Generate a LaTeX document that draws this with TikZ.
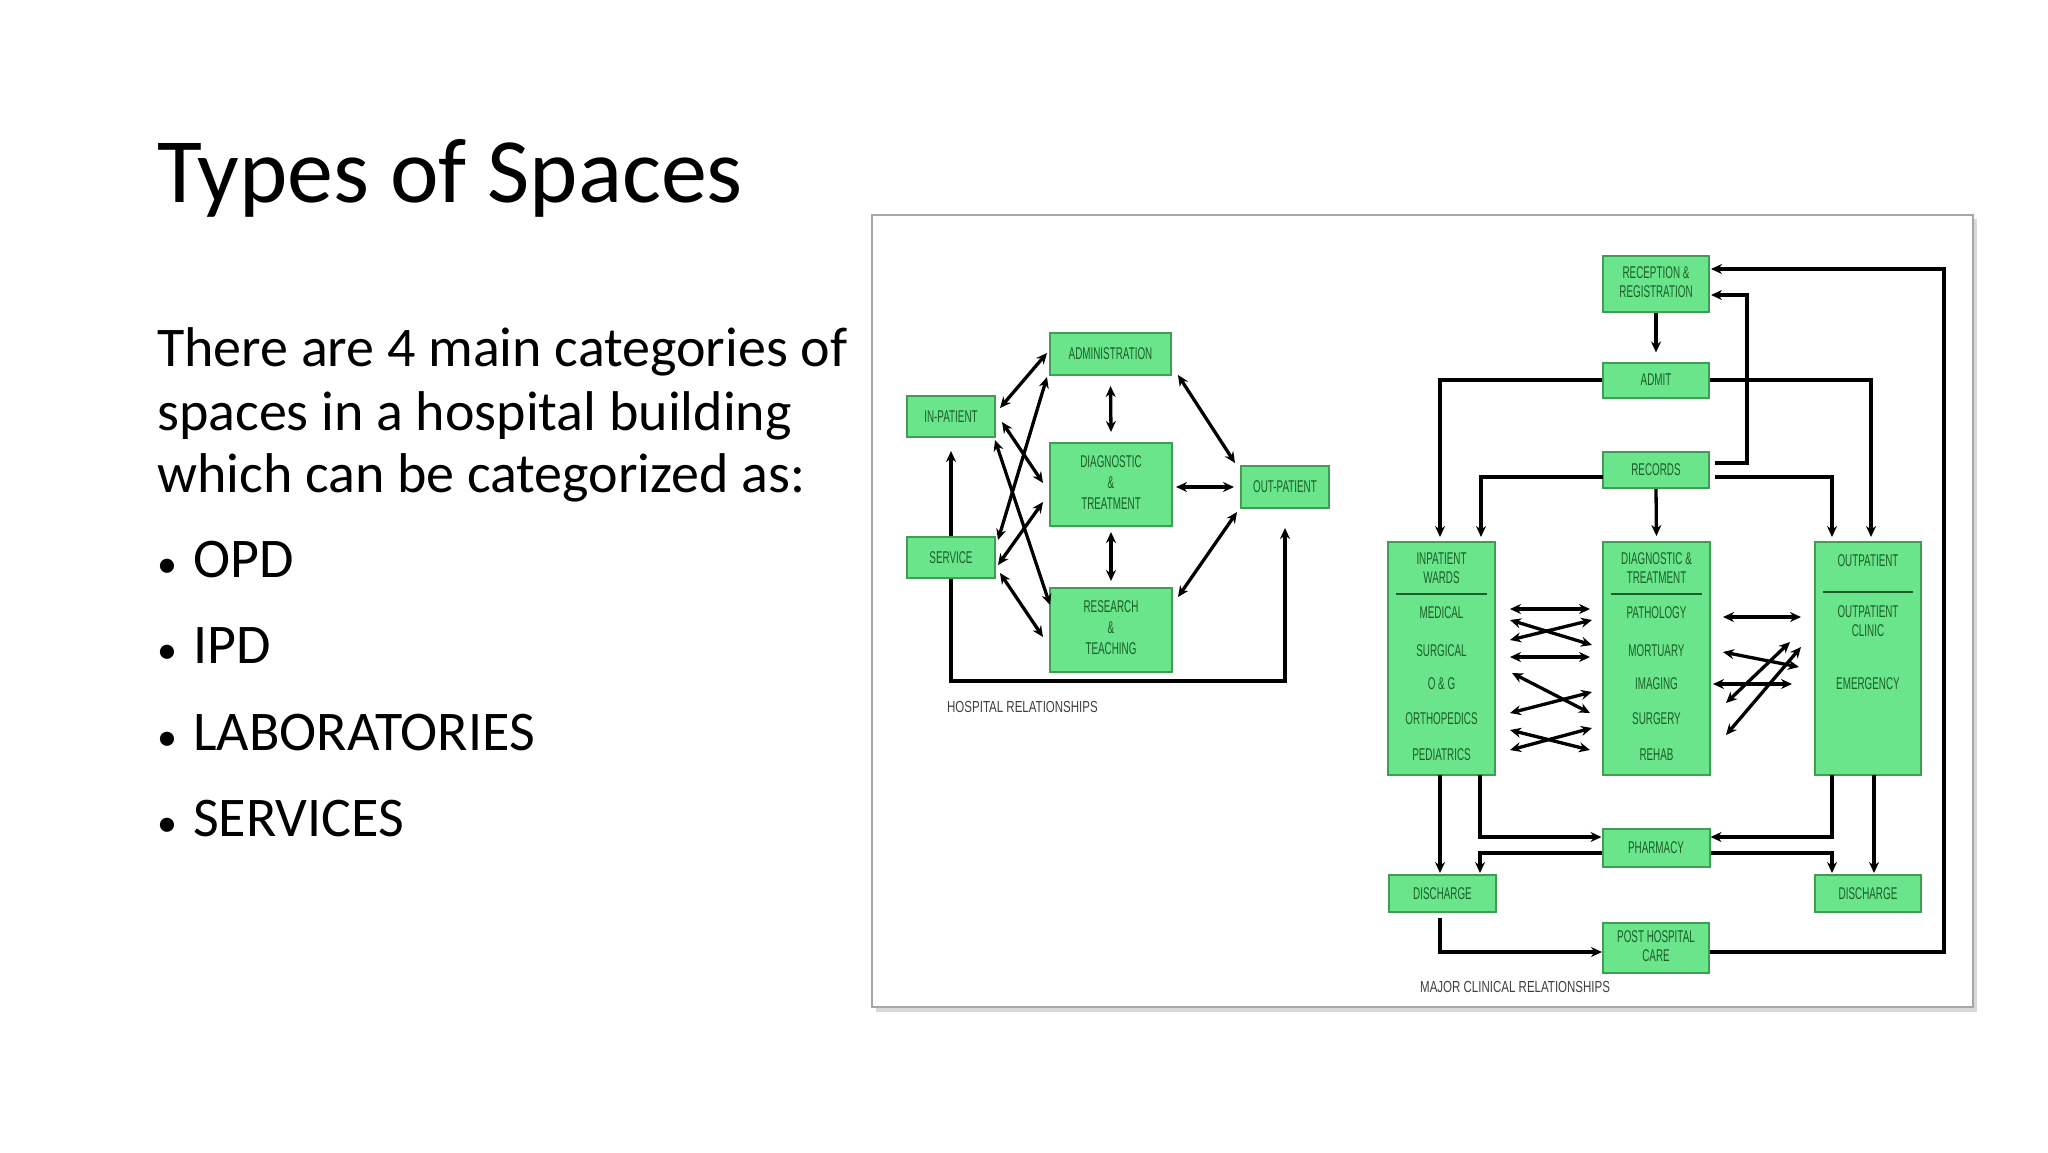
\documentclass[tikz,border=0pt]{standalone}
\usepackage{fontspec}
\setmainfont{Carlito}
\newfontfamily\dfont{Liberation Sans}
\usetikzlibrary{arrows.meta,calc}
\definecolor{boxfill}{HTML}{6BE58B}
\definecolor{boxline}{HTML}{3E9E55}
\definecolor{boxtext}{HTML}{1A5E28}
\newcommand\dtx[1]{\scalebox{0.58}[1]{\dfont\fontsize{17}{19}\selectfont #1}}
\newcommand\dtm[1]{\scalebox{0.58}[1]{\dfont\fontsize{17}{19}\selectfont\begin{tabular}{@{}c@{}}#1\end{tabular}}}
\tikzset{
  box/.style={draw=boxline, line width=2pt, fill=boxfill, inner sep=0pt, text=boxtext, align=center},
  lbl/.style={inner sep=0pt, text=boxtext},
  con/.style={line width=3.3pt, black},
  sgl/.style={con, -{Stealth[length=11pt,width=10pt]}},
  dbl/.style={con, {Stealth[length=11pt,width=10pt]}-{Stealth[length=11pt,width=10pt]}},
  body/.style={anchor=base west, inner sep=0pt, font=\fontsize{56}{66}\selectfont},
  captxt/.style={anchor=base west, inner sep=0pt, text=black!75, font=\dfont\fontsize{16}{18}\selectfont, xscale=0.72}
}
\begin{document}
\begin{tikzpicture}[x=1pt,y=-1pt]
\fill[white] (0,0) rectangle (2048,1152);
\useasboundingbox (0,0) rectangle (2048,1152);
% text
\node[anchor=base west, inner sep=0pt, font=\fontsize{92}{104}\selectfont] (title) at (157,202) {Types of Spaces};
\node[body] (l1) at (157,366) {There are 4 main categories of};
\node[body] (l2) at (157,430) {spaces in a hospital building};
\node[body] (l3) at (157,492) {which can be categorized as:};
\node[body] (b1) at (157,577) {{\fontsize{40}{40}\selectfont\textbullet}\hspace{16pt}OPD};
\node[body] (b2) at (157,663) {{\fontsize{40}{40}\selectfont\textbullet}\hspace{16pt}IPD};
\node[body] (b3) at (157,750) {{\fontsize{40}{40}\selectfont\textbullet}\hspace{16pt}LABORATORIES};
\node[body] (b4) at (157,836) {{\fontsize{40}{40}\selectfont\textbullet}\hspace{16pt}SERVICES};
% frame
\fill[black!15] (876,219) rectangle (1977,1012);
\draw[fill=white, draw=black!35, line width=1.2pt] (872,215) rectangle (1973,1007);

% ---------- left diagram
\node[box, minimum width=88pt, minimum height=41pt] (inpat) at (951,416.5) {\dtx{IN-PATIENT}};
\node[box, minimum width=88pt, minimum height=41pt] (serv) at (951,557.5) {\dtx{SERVICE}};
\node[box, minimum width=121pt, minimum height=42pt] (admin) at (1110.5,354) {\dtx{ADMINISTRATION}};
\node[box, minimum width=122pt, minimum height=83pt] (diag) at (1111,484.5) {\dtm{DIAGNOSTIC\\[2pt]\&\\[2pt]TREATMENT}};
\node[box, minimum width=122pt, minimum height=84pt] (res) at (1111,630) {\dtm{RESEARCH\\[2pt]\&\\[2pt]TEACHING}};
\node[box, minimum width=88pt, minimum height=42pt] (outp) at (1285,487) {\dtx{OUT-PATIENT}};
\node[captxt] (hr) at (947,712) {HOSPITAL RELATIONSHIPS};

\draw[dbl] (1000,408) -- (1047,353);
\draw[dbl] (1002,422) -- (1043,483);
\draw[dbl] (995,440) -- (1050,605);
\draw[dbl] (998,540) -- (1047,377);
\draw[dbl] (998,565) -- (1043,502);
\draw[dbl] (1000,573) -- (1043,637);
\draw[dbl] ([yshift=-10pt]admin.south) -- ([yshift=10pt]diag.north);
\draw[dbl] ([yshift=-5pt]diag.south) -- ([yshift=6pt]res.north);
\draw[dbl] (1178,375) -- (1235,463);
\draw[dbl, line width=4pt] (1176,487) -- (1234,487);
\draw[dbl] (1178,597) -- (1237,512);
\draw[sgl, shorten >=13pt] (serv.north) -- (inpat.south);
\draw[sgl, shorten >=19pt] (serv.south) -- (serv.south |- 0,681) -| (outp.south);

% ---------- right diagram
\node[box, minimum width=106pt, minimum height=56pt] (rec) at (1656,284) {\dtm{RECEPTION \&\\REGISTRATION}};
\node[box, minimum width=106pt, minimum height=35pt] (adm) at (1656,380) {\dtx{ADMIT}};
\node[box, minimum width=106pt, minimum height=36pt] (recs) at (1656,470) {\dtx{RECORDS}};
\node[box, minimum width=107pt, minimum height=233pt] (ipw) at (1441.5,658.5) {};
\node[box, minimum width=107pt, minimum height=233pt] (dtc) at (1656.5,658.5) {};
\node[box, minimum width=106pt, minimum height=233pt] (opc) at (1868,658.5) {};
\node[box, minimum width=107pt, minimum height=38pt] (pharm) at (1656,848) {\dtx{PHARMACY}};
\node[box, minimum width=107pt, minimum height=37pt] (disl) at (1442.5,893.5) {\dtx{DISCHARGE}};
\node[box, minimum width=106pt, minimum height=37pt] (disr) at (1868,893.5) {\dtx{DISCHARGE}};
\node[box, minimum width=106pt, minimum height=50pt] (post) at (1656,948) {\dtm{POST HOSPITAL\\CARE}};
\node[captxt] (mcr) at (1420,992) {MAJOR CLINICAL RELATIONSHIPS};

% column contents
\node[lbl] (t1) at (1441.5,570) {\dtm{INPATIENT\\WARDS}};
\draw[boxtext, line width=2.5pt] (1396,594) -- (1487,594);
\node[lbl] (i1) at (1441.5,613) {\dtx{MEDICAL}};
\node[lbl] (i2) at (1441.5,651) {\dtx{SURGICAL}};
\node[lbl] (i3) at (1441.5,684) {\dtx{O \& G}};
\node[lbl] (i4) at (1441.5,719) {\dtx{ORTHOPEDICS}};
\node[lbl] (i5) at (1441.5,755) {\dtx{PEDIATRICS}};
\node[lbl] (t2) at (1656.5,570) {\dtm{DIAGNOSTIC \&\\TREATMENT}};
\draw[boxtext, line width=2.5pt] (1611,594) -- (1702,594);
\node[lbl] (d1) at (1656.5,613) {\dtx{PATHOLOGY}};
\node[lbl] (d2) at (1656.5,651) {\dtx{MORTUARY}};
\node[lbl] (d3) at (1656.5,684) {\dtx{IMAGING}};
\node[lbl] (d4) at (1656.5,719) {\dtx{SURGERY}};
\node[lbl] (d5) at (1656.5,755) {\dtx{REHAB}};
\node[lbl] (t3) at (1868,561) {\dtx{OUTPATIENT}};
\draw[boxtext, line width=2.5pt] (1823,592) -- (1913,592);
\node[lbl] (o1) at (1868,623) {\dtm{OUTPATIENT\\CLINIC}};
\node[lbl] (o2) at (1868,684) {\dtx{EMERGENCY}};

% top connectors
\draw[sgl, shorten >=9pt] (rec.south) -- (adm.north);
\draw[sgl] (adm.west) -| (1440,537);
\draw[sgl] (adm.east) -| (1871,537);
\draw[sgl] (1603,477) -| (1481,537);
\draw[sgl] (1715,477) -| (1832,537);
\draw[sgl, shorten >=5pt] (recs.south) -- (dtc.north);
\draw[sgl] (1715,463) -| (1747,295) -- (1711,295);
\draw[sgl] (post.east |- 0,952) -- (1944,952) |- (1711,269);
% cross arrows left
\draw[dbl] (1510,609) -- (1590,609);
\draw[dbl] (1510,620) -- (1592,645);
\draw[dbl] (1510,640) -- (1592,620);
\draw[dbl] (1510,657) -- (1590,657);
\draw[dbl] (1512,673) -- (1590,713);
\draw[dbl] (1510,713) -- (1592,692);
\draw[dbl] (1510,730) -- (1590,750);
\draw[dbl] (1510,750) -- (1592,728);
% cross arrows right
\draw[dbl] (1723,617) -- (1801,617);
\draw[dbl] (1723,652) -- (1799,667);
\draw[dbl] (1713,684) -- (1792,684);
\draw[dbl] (1726,703) -- (1790,642);
\draw[dbl] (1726,735) -- (1801,647);
% bottom connectors
\draw[sgl] (1440,775) -- (1440,873);
\draw[sgl] (1480,775) |- (pharm.west |- 0,837);
\draw[sgl] (pharm.west |- 0,853) -| (1480,873);
\draw[sgl] (1832,775) |- (pharm.east |- 0,837);
\draw[sgl] (pharm.east |- 0,853) -| (1832,873);
\draw[sgl] (1874,775) -- (1874,873);
\draw[sgl] (1440,918) |- (post.west |- 0,952);
\end{tikzpicture}
\end{document}
